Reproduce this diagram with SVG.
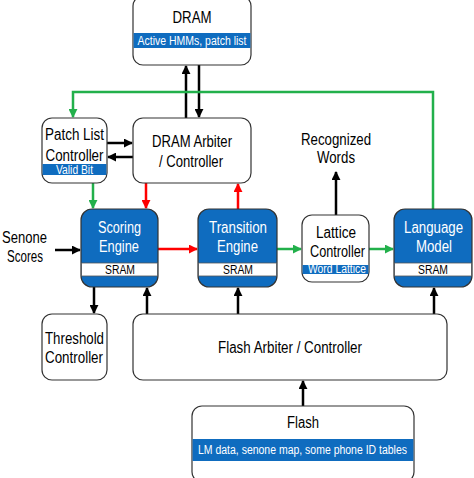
<svg xmlns="http://www.w3.org/2000/svg" width="474" height="478" viewBox="0 0 474 478">
<defs>
<marker id="ak" viewBox="0 0 10 10" refX="9" refY="5" markerWidth="9" markerHeight="9" markerUnits="userSpaceOnUse" orient="auto"><path d="M0,0 L10,5 L0,10 z" fill="#000"/></marker>
<marker id="ar" viewBox="0 0 10 10" refX="9" refY="5" markerWidth="9" markerHeight="9" markerUnits="userSpaceOnUse" orient="auto"><path d="M0,0 L10,5 L0,10 z" fill="#ff0000"/></marker>
<marker id="ag" viewBox="0 0 10 10" refX="9" refY="5" markerWidth="9" markerHeight="9" markerUnits="userSpaceOnUse" orient="auto"><path d="M0,0 L10,5 L0,10 z" fill="#22b04b"/></marker>
</defs>
<style>
text{font-family:"Liberation Sans",Arial,sans-serif;text-anchor:middle;fill:#000}
.box{fill:#fff;stroke:#333;stroke-width:1.2}
.eng{fill:#0f6cbf;stroke:#333;stroke-width:1.2}
.band{fill:#0f6cbf}
.wband{fill:#fff;stroke:#555;stroke-width:0.8}
.t{font-size:16px}
.s{font-size:12.5px}
.w{fill:#fff}
.k{fill:none;stroke:#000;stroke-width:2.5;marker-end:url(#ak)}
.r{fill:none;stroke:#ff0000;stroke-width:2.5;marker-end:url(#ar)}
.g{fill:none;stroke:#22b04b;stroke-width:2.5;marker-end:url(#ag)}
</style>
<rect width="474" height="478" fill="#fff"/>
<g id="connectors">
<path class="k" d="M186,118 V66"/>
<path class="k" d="M199,65 V117"/>
<path class="k" d="M107,143 H132"/>
<path class="k" d="M133,157 H108"/>
<path class="g" d="M433,209 V92 H73 V117"/>
<path class="g" d="M93,183 V208"/>
<path class="r" d="M146,183 V208"/>
<path class="r" d="M238,209 V184"/>
<path class="k" d="M55,250 H80"/>
<path class="r" d="M158,249 H197"/>
<path class="g" d="M277,249 H301"/>
<path class="g" d="M369,249 H393"/>
<path class="k" d="M336,215 V172"/>
<path class="k" d="M94,287 V313"/>
<path class="k" d="M147,314 V288"/>
<path class="k" d="M238,314 V288"/>
<path class="k" d="M434,314 V288"/>
<path class="k" d="M303,406 V381"/>
</g>
<g id="dram">
<rect class="box" x="133" y="-4" width="118" height="69" rx="10"/>
<rect class="band" x="133.6" y="33" width="116.8" height="15"/>
<text class="t" x="192" y="23" font-size="15" textLength="39" lengthAdjust="spacingAndGlyphs">DRAM</text>
<text class="s w" x="192" y="45" textLength="109" lengthAdjust="spacingAndGlyphs">Active HMMs, patch list</text>
</g>
<g id="patch-list">
<rect class="box" x="42" y="118" width="65" height="65" rx="10"/>
<rect class="band" x="42.6" y="164" width="63.8" height="11"/>
<text class="t" x="74.5" y="140" textLength="59" lengthAdjust="spacingAndGlyphs">Patch List</text>
<text class="t" x="74.5" y="161" textLength="58" lengthAdjust="spacingAndGlyphs">Controller</text>
<text class="s w" x="74.5" y="174" font-size="11.5" textLength="37" lengthAdjust="spacingAndGlyphs">Valid Bit</text>
</g>
<g id="dram-arbiter">
<rect class="box" x="133" y="118" width="118" height="65" rx="10"/>
<text class="t" x="192" y="147" textLength="80" lengthAdjust="spacingAndGlyphs">DRAM Arbiter</text>
<text class="t" x="191" y="167" textLength="64" lengthAdjust="spacingAndGlyphs">/ Controller</text>
</g>
<g id="senone">
<text class="t" x="24.5" y="243" textLength="45" lengthAdjust="spacingAndGlyphs">Senone</text>
<text class="t" x="25" y="262" textLength="36" lengthAdjust="spacingAndGlyphs">Scores</text>
</g>
<g id="scoring">
<rect class="eng" x="81" y="209" width="77" height="78" rx="11"/>
<rect class="wband" x="81.6" y="263" width="75.8" height="13"/>
<text class="t w" x="119.5" y="233" textLength="43" lengthAdjust="spacingAndGlyphs">Scoring</text>
<text class="t w" x="119" y="252" textLength="40" lengthAdjust="spacingAndGlyphs">Engine</text>
<text class="s" x="120" y="274" textLength="30" lengthAdjust="spacingAndGlyphs">SRAM</text>
</g>
<g id="transition">
<rect class="eng" x="198" y="209" width="79" height="78" rx="11"/>
<rect class="wband" x="198.6" y="263" width="77.8" height="13"/>
<text class="t w" x="238" y="233" textLength="58" lengthAdjust="spacingAndGlyphs">Transition</text>
<text class="t w" x="237.5" y="252" textLength="41" lengthAdjust="spacingAndGlyphs">Engine</text>
<text class="s" x="238" y="274" textLength="30" lengthAdjust="spacingAndGlyphs">SRAM</text>
</g>
<g id="lattice">
<rect class="box" x="302" y="215" width="67" height="67" rx="10"/>
<rect class="band" x="302.6" y="265" width="65.8" height="9"/>
<text class="t" x="336" y="238" textLength="40" lengthAdjust="spacingAndGlyphs">Lattice</text>
<text class="t" x="337.5" y="257" textLength="55" lengthAdjust="spacingAndGlyphs">Controller</text>
<text class="s w" x="337" y="273" font-size="11" textLength="58" lengthAdjust="spacingAndGlyphs">Word Lattice</text>
</g>
<g id="language-model">
<rect class="eng" x="394" y="209" width="78" height="78" rx="11"/>
<rect class="wband" x="394.6" y="263" width="76.8" height="13"/>
<text class="t w" x="433.5" y="233" textLength="59" lengthAdjust="spacingAndGlyphs">Language</text>
<text class="t w" x="434" y="252" textLength="36" lengthAdjust="spacingAndGlyphs">Model</text>
<text class="s" x="433" y="274" textLength="30" lengthAdjust="spacingAndGlyphs">SRAM</text>
</g>
<g id="recognized">
<text class="t" x="336" y="145" textLength="70" lengthAdjust="spacingAndGlyphs">Recognized</text>
<text class="t" x="336" y="163" textLength="38" lengthAdjust="spacingAndGlyphs">Words</text>
</g>
<g id="threshold">
<rect class="box" x="42" y="314" width="65" height="66" rx="10"/>
<text class="t" x="74.5" y="344" textLength="59" lengthAdjust="spacingAndGlyphs">Threshold</text>
<text class="t" x="74" y="363" textLength="58" lengthAdjust="spacingAndGlyphs">Controller</text>
</g>
<g id="flash-arbiter">
<rect class="box" x="133" y="314" width="314" height="66" rx="10"/>
<text class="t" x="290" y="353" textLength="144" lengthAdjust="spacingAndGlyphs">Flash Arbiter / Controller</text>
</g>
<g id="flash">
<rect class="box" x="192" y="406" width="222" height="76" rx="10"/>
<rect class="band" x="192.6" y="439" width="220.8" height="22"/>
<text class="t" x="303" y="428" textLength="32" lengthAdjust="spacingAndGlyphs">Flash</text>
<text class="s w" x="302.5" y="454" textLength="209" lengthAdjust="spacingAndGlyphs">LM data, senone map, some phone ID tables</text>
</g>
</svg>
